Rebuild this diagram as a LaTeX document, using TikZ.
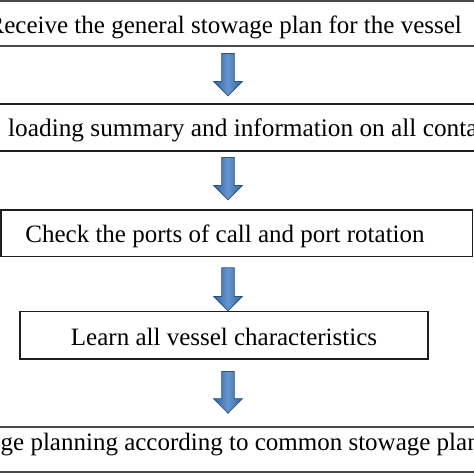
\documentclass[tikz,border=0pt]{standalone}
\usepackage{fontspec}
\setmainfont{Liberation Serif}
\usetikzlibrary{calc}
\definecolor{boxline}{HTML}{1E1E1E}
\definecolor{edgegray}{HTML}{4A4A4A}
\definecolor{arrowedge}{HTML}{2A5388}
\definecolor{arrowdark}{HTML}{3566A0}
\definecolor{arrowlight}{HTML}{6495CE}
\tikzset{
  box/.style={draw=boxline, line width=1.6pt, rectangle, inner sep=0pt, fill=white},
  steptext/.style={inner sep=0pt, font=\fontsize{25}{30}\selectfont, text=black},
  blockarrow/.style={draw=arrowedge, line width=0.8pt, line join=miter,
    left color=arrowdark, right color=arrowdark, middle color=arrowlight},
}
\newcommand{\blockarr}[2]{%
  \path[blockarrow] ($(#1)+(-6.3,0)$) -- ($(#1)+(6.3,0)$) -- ($(#2)+(6.3,-14.5)$)
    -- ($(#2)+(14.3,-14.5)$) -- (#2) -- ($(#2)+(-14.3,-14.5)$) -- ($(#2)+(-6.3,-14.5)$) -- cycle;}
\begin{document}
\begin{tikzpicture}[x=1pt, y=-1pt]
\useasboundingbox (0,0) rectangle (474,474);
\clip (0,0) rectangle (474,474);
\fill[white] (0,0) rectangle (474,474);
% boxes
\node[box, draw=edgegray, line width=2.6pt, minimum width=540, minimum height=45] (b1) at (228,23.5) {};
\node[box, minimum width=540, minimum height=47] (b2) at (228,127.5) {};
\node[box, minimum width=471.5, minimum height=46.5] (b3) at (236.75,233.25) {};
\node[box, minimum width=408, minimum height=47.5] (b4) at (224,335.25) {};
\node[box, draw=edgegray, line width=2.2pt, minimum width=540, minimum height=45] (b5) at (228,449.8) {};
% texts
\node[steptext, anchor=base east] (t1) at (462,33.3) {Receive the general stowage plan for the vessel};
\node[steptext, font=\fontsize{25.3}{30}\selectfont, anchor=base west] (t2) at (8,136.7) {loading summary and information on all containers};
\node[steptext, anchor=base] (t3) at (225,242.5) {Check the ports of call and port rotation};
\node[steptext, anchor=base] (t4) at (224,345.7) {Learn all vessel characteristics};
\node[steptext, anchor=base west] (t5) at (0.5,450.5) {ge planning according to common stowage plans};
% arrow axis
\coordinate (ax) at (228,0);
\coordinate (a1s) at ($(b1.south -| ax)+(0,6.3)$);
\coordinate (a1e) at ($(b2.north -| ax)+(0,-7.3)$);
\coordinate (a2s) at ($(b2.south -| ax)+(0,5.7)$);
\coordinate (a2e) at ($(b3.north -| ax)+(0,-9.3)$);
\coordinate (a3s) at ($(b3.south -| ax)+(0,10.5)$);
\coordinate (a3e) at ($(b4.north -| ax)+(0,0.2)$);
\coordinate (a4s) at ($(b4.south -| ax)+(0,11.7)$);
\coordinate (a4e) at ($(b5.north -| ax)+(0,-13)$);
\blockarr{a1s}{a1e}
\blockarr{a2s}{a2e}
\blockarr{a3s}{a3e}
\blockarr{a4s}{a4e}
\end{tikzpicture}
\end{document}
